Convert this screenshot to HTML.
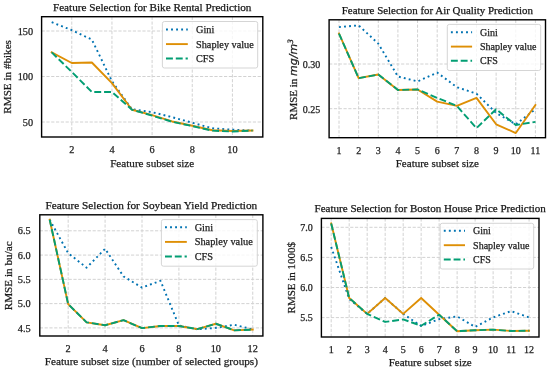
<!DOCTYPE html>
<html lang="en"><head><meta charset="utf-8"><title>Feature Selection</title>
<style>
html,body{margin:0;padding:0;background:#fff;}
body{width:550px;height:373px;overflow:hidden;}
svg{display:block;font-family:"Liberation Serif","DejaVu Serif",serif;}
text{stroke:#222;stroke-width:0.25px;}
.tk{font-size:10px;fill:#1a1a1a;}
.lb{font-size:11px;fill:#1a1a1a;}
.tt{font-size:11px;fill:#111;}
.lg{font-size:10px;fill:#1a1a1a;}
.it{font-family:"DejaVu Sans","Liberation Sans",sans-serif;font-style:italic;font-size:11px;}
</style></head><body>
<svg width="550" height="373" viewBox="0 0 550 373">
<rect width="550" height="373" fill="#ffffff"/>
<g id="panel1">
<path d="M71.78 16.7V137M111.94 16.7V137M152.1 16.7V137M192.26 16.7V137M232.42 16.7V137M41.6 122H262.8M41.6 76.5H262.8M41.6 31H262.8" fill="none" stroke="#d2d2d2" stroke-width="1" stroke-dasharray="3.2 1.6"/>
<polyline points="51.7,22.17 71.78,30.18 91.86,39.55 111.94,81.23 132.02,109.26 152.1,112.17 172.18,117.18 192.26,122.73 212.34,128.28 232.42,129.74 252.5,130.55" fill="none" stroke="#0173b2" stroke-width="1.9" stroke-dasharray="1.9 3.15" stroke-linejoin="round"/>
<polyline points="51.7,52.39 71.78,63.03 91.86,62.49 111.94,83.14 132.02,109.72 152.1,115.17 172.18,121.45 192.26,125.73 212.34,130.28 232.42,131.01 252.5,130.55" fill="none" stroke="#de8f05" stroke-width="1.9" stroke-linejoin="round" stroke-linecap="square"/>
<polyline points="51.7,52.39 71.78,71.95 91.86,91.97 111.94,91.97 132.02,109.72 152.1,115.63 172.18,121.82 192.26,126.09 212.34,130.65 232.42,131.56 252.5,130.55" fill="none" stroke="#029e73" stroke-width="1.9" stroke-dasharray="6.9 2.9" stroke-linejoin="round"/>
<rect x="41.6" y="16.7" width="221.2" height="120.3" fill="none" stroke="#000" stroke-width="1.4"/>
<rect x="162.4" y="21.5" width="95.3" height="46.5" rx="2" ry="2" fill="#fff" fill-opacity="0.8" stroke="#d0d0d0" stroke-width="0.9"/>
<line x1="166" y1="29.5" x2="187.8" y2="29.5" stroke="#0173b2" stroke-width="1.9" stroke-dasharray="1.9 3.15"/>
<line x1="166" y1="44.1" x2="187.8" y2="44.1" stroke="#de8f05" stroke-width="1.9"/>
<line x1="166" y1="58.5" x2="187.8" y2="58.5" stroke="#029e73" stroke-width="1.9" stroke-dasharray="6.9 2.9"/>
<text class="lg" style="font-size:10.25px" x="196" y="33">Gini</text>
<text class="lg" style="font-size:10.25px" x="196" y="47.6">Shapley value</text>
<text class="lg" style="font-size:10.25px" x="196" y="62">CFS</text>
<text class="tk" style="font-size:10.25px" x="71.78" y="153" text-anchor="middle">2</text>
<text class="tk" style="font-size:10.25px" x="111.94" y="153" text-anchor="middle">4</text>
<text class="tk" style="font-size:10.25px" x="152.1" y="153" text-anchor="middle">6</text>
<text class="tk" style="font-size:10.25px" x="192.26" y="153" text-anchor="middle">8</text>
<text class="tk" style="font-size:10.25px" x="232.42" y="153" text-anchor="middle">10</text>
<text class="tk" style="font-size:10.25px" x="33" y="125.9" text-anchor="end">50</text>
<text class="tk" style="font-size:10.25px" x="33" y="80.4" text-anchor="end">100</text>
<text class="tk" style="font-size:10.25px" x="33" y="34.9" text-anchor="end">150</text>
<text class="tt" style="font-size:11.2px" x="152.2" y="10.6" text-anchor="middle">Feature Selection for Bike Rental Prediction</text>
<text class="lb" style="font-size:11.13px" x="152.2" y="166.8" text-anchor="middle">Feature subset size</text>
<text class="lb" style="font-size:11.13px" transform="translate(11 76.85) rotate(-90)" text-anchor="middle">RMSE in #bikes</text>
</g>
<g id="panel2">
<path d="M339 19.8V137.7M358.64 19.8V137.7M378.28 19.8V137.7M397.92 19.8V137.7M417.56 19.8V137.7M437.2 19.8V137.7M456.84 19.8V137.7M476.48 19.8V137.7M496.12 19.8V137.7M515.76 19.8V137.7M535.4 19.8V137.7M329.1 108.7H545.5M329.1 64H545.5" fill="none" stroke="#d2d2d2" stroke-width="1" stroke-dasharray="3.2 1.6"/>
<polyline points="339,27.08 358.64,25.38 378.28,43.62 397.92,76.52 417.56,81.43 437.2,72.58 456.84,87.15 476.48,93.68 496.12,112.99 515.76,124.26 535.4,109.24" fill="none" stroke="#0173b2" stroke-width="1.9" stroke-dasharray="1.9 3.15" stroke-linejoin="round"/>
<polyline points="339,33.6 358.64,78.13 378.28,74.55 397.92,89.93 417.56,89.48 437.2,101.64 456.84,105.93 476.48,97.88 496.12,124.26 515.76,133.02 535.4,104.95" fill="none" stroke="#de8f05" stroke-width="1.9" stroke-linejoin="round" stroke-linecap="square"/>
<polyline points="339,33.6 358.64,78.13 378.28,74.55 397.92,89.93 417.56,89.48 437.2,97.88 456.84,105.93 476.48,128.1 496.12,109.24 515.76,125.06 535.4,121.84" fill="none" stroke="#029e73" stroke-width="1.9" stroke-dasharray="6.9 2.9" stroke-linejoin="round"/>
<rect x="329.1" y="19.8" width="216.4" height="117.9" fill="none" stroke="#000" stroke-width="1.4"/>
<rect x="447.3" y="24.4" width="93.4" height="46.1" rx="2" ry="2" fill="#fff" fill-opacity="0.8" stroke="#d0d0d0" stroke-width="0.9"/>
<line x1="450.9" y1="32.2" x2="472.1" y2="32.2" stroke="#0173b2" stroke-width="1.9" stroke-dasharray="1.9 3.15"/>
<line x1="450.9" y1="46.6" x2="472.1" y2="46.6" stroke="#de8f05" stroke-width="1.9"/>
<line x1="450.9" y1="60.8" x2="472.1" y2="60.8" stroke="#029e73" stroke-width="1.9" stroke-dasharray="6.9 2.9"/>
<text class="lg" style="font-size:10px" x="480" y="35.7">Gini</text>
<text class="lg" style="font-size:10px" x="480" y="50.1">Shapley value</text>
<text class="lg" style="font-size:10px" x="480" y="64.3">CFS</text>
<text class="tk" style="font-size:10px" x="339" y="153.5" text-anchor="middle">1</text>
<text class="tk" style="font-size:10px" x="358.64" y="153.5" text-anchor="middle">2</text>
<text class="tk" style="font-size:10px" x="378.28" y="153.5" text-anchor="middle">3</text>
<text class="tk" style="font-size:10px" x="397.92" y="153.5" text-anchor="middle">4</text>
<text class="tk" style="font-size:10px" x="417.56" y="153.5" text-anchor="middle">5</text>
<text class="tk" style="font-size:10px" x="437.2" y="153.5" text-anchor="middle">6</text>
<text class="tk" style="font-size:10px" x="456.84" y="153.5" text-anchor="middle">7</text>
<text class="tk" style="font-size:10px" x="476.48" y="153.5" text-anchor="middle">8</text>
<text class="tk" style="font-size:10px" x="496.12" y="153.5" text-anchor="middle">9</text>
<text class="tk" style="font-size:10px" x="515.76" y="153.5" text-anchor="middle">10</text>
<text class="tk" style="font-size:10px" x="535.4" y="153.5" text-anchor="middle">11</text>
<text class="tk" style="font-size:10px" x="320.3" y="112.5" text-anchor="end">0.25</text>
<text class="tk" style="font-size:10px" x="320.3" y="67.8" text-anchor="end">0.30</text>
<text class="tt" style="font-size:10.92px" x="437.3" y="14.4" text-anchor="middle">Feature Selection for Air Quality Prediction</text>
<text class="lb" style="font-size:11.0px" x="437.3" y="166.8" text-anchor="middle">Feature subset size</text>
<text class="lb" style="font-size:11.0px" transform="translate(296.9 79.5) rotate(-90)" text-anchor="middle">RMSE in <tspan class="it">mg/m</tspan><tspan class="it" style="font-size:7.4px" dy="-4.2">3</tspan></text>
</g>
<g id="panel3">
<path d="M68.16 214.8V336M105.08 214.8V336M142 214.8V336M178.92 214.8V336M215.84 214.8V336M252.76 214.8V336M39.8 327.9H262.9M39.8 303.62H262.9M39.8 279.35H262.9M39.8 255.08H262.9M39.8 230.8H262.9" fill="none" stroke="#d2d2d2" stroke-width="1" stroke-dasharray="3.2 1.6"/>
<polyline points="49.7,219.68 68.16,253.13 86.62,267.7 105.08,248.76 123.54,276.44 142,287.6 160.46,280.81 178.92,325.47 197.38,329.36 215.84,327.9 234.3,324.74 252.76,329.36" fill="none" stroke="#0173b2" stroke-width="1.9" stroke-dasharray="1.9 3.15" stroke-linejoin="round"/>
<polyline points="49.7,219.68 68.16,304.11 86.62,322.32 105.08,325.23 123.54,320.13 142,328.14 160.46,325.96 178.92,325.96 197.38,329.11 215.84,323.77 234.3,330.33 252.76,329.6" fill="none" stroke="#de8f05" stroke-width="1.9" stroke-linejoin="round" stroke-linecap="square"/>
<polyline points="49.7,219.68 68.16,304.11 86.62,322.32 105.08,325.23 123.54,320.13 142,328.14 160.46,325.96 178.92,325.96 197.38,329.11 215.84,323.77 234.3,330.33 252.76,329.6" fill="none" stroke="#029e73" stroke-width="1.9" stroke-dasharray="6.9 2.9" stroke-linejoin="round"/>
<rect x="39.8" y="214.8" width="223.1" height="121.2" fill="none" stroke="#000" stroke-width="1.4"/>
<rect x="161.4" y="219.6" width="95.9" height="46.6" rx="2" ry="2" fill="#fff" fill-opacity="0.8" stroke="#d0d0d0" stroke-width="0.9"/>
<line x1="165" y1="227.2" x2="186.8" y2="227.2" stroke="#0173b2" stroke-width="1.9" stroke-dasharray="1.9 3.15"/>
<line x1="165" y1="241.9" x2="186.8" y2="241.9" stroke="#de8f05" stroke-width="1.9"/>
<line x1="165" y1="256.5" x2="186.8" y2="256.5" stroke="#029e73" stroke-width="1.9" stroke-dasharray="6.9 2.9"/>
<text class="lg" style="font-size:10.3px" x="194.7" y="230.7">Gini</text>
<text class="lg" style="font-size:10.3px" x="194.7" y="245.4">Shapley value</text>
<text class="lg" style="font-size:10.3px" x="194.7" y="260">CFS</text>
<text class="tk" style="font-size:10.3px" x="68.16" y="352" text-anchor="middle">2</text>
<text class="tk" style="font-size:10.3px" x="105.08" y="352" text-anchor="middle">4</text>
<text class="tk" style="font-size:10.3px" x="142" y="352" text-anchor="middle">6</text>
<text class="tk" style="font-size:10.3px" x="178.92" y="352" text-anchor="middle">8</text>
<text class="tk" style="font-size:10.3px" x="215.84" y="352" text-anchor="middle">10</text>
<text class="tk" style="font-size:10.3px" x="252.76" y="352" text-anchor="middle">12</text>
<text class="tk" style="font-size:10.3px" x="30.7" y="331.5" text-anchor="end">4.5</text>
<text class="tk" style="font-size:10.3px" x="30.7" y="307.23" text-anchor="end">5.0</text>
<text class="tk" style="font-size:10.3px" x="30.7" y="282.95" text-anchor="end">5.5</text>
<text class="tk" style="font-size:10.3px" x="30.7" y="258.68" text-anchor="end">6.0</text>
<text class="tk" style="font-size:10.3px" x="30.7" y="234.4" text-anchor="end">6.5</text>
<text class="tt" style="font-size:11.25px" x="151.35" y="208.5" text-anchor="middle">Feature Selection for Soybean Yield Prediction</text>
<text class="lb" style="font-size:11.2px" x="151.35" y="365.4" text-anchor="middle">Feature subset size (number of selected groups)</text>
<text class="lb" style="font-size:11.2px" transform="translate(11.6 275.8) rotate(-90)" text-anchor="middle">RMSE in bu/ac</text>
</g>
<g id="panel4">
<path d="M331.2 218.4V337M349.19 218.4V337M367.18 218.4V337M385.17 218.4V337M403.16 218.4V337M421.15 218.4V337M439.14 218.4V337M457.13 218.4V337M475.12 218.4V337M493.11 218.4V337M511.1 218.4V337M529.09 218.4V337M321.4 317.6H539M321.4 287.5H539M321.4 257.4H539M321.4 227.3H539" fill="none" stroke="#d2d2d2" stroke-width="1" stroke-dasharray="3.2 1.6"/>
<polyline points="331.2,246.93 349.19,298.94 367.18,313.87 385.17,297.97 403.16,313.87 421.15,326.03 439.14,319.11 457.13,316.4 475.12,326.93 493.11,317.42 511.1,311.1 529.09,317.42" fill="none" stroke="#0173b2" stroke-width="1.9" stroke-dasharray="1.9 3.15" stroke-linejoin="round"/>
<polyline points="331.2,223.51 349.19,297.97 367.18,313.87 385.17,297.97 403.16,313.87 421.15,297.97 439.14,314.71 457.13,331.21 475.12,330.24 493.11,329.64 511.1,330.96 529.09,330.72" fill="none" stroke="#de8f05" stroke-width="1.9" stroke-linejoin="round" stroke-linecap="square"/>
<polyline points="331.2,223.51 349.19,297.97 367.18,313.87 385.17,321.93 403.16,319.41 421.15,325.73 439.14,314.71 457.13,331.21 475.12,330.24 493.11,329.64 511.1,330.96 529.09,330.72" fill="none" stroke="#029e73" stroke-width="1.9" stroke-dasharray="6.9 2.9" stroke-linejoin="round"/>
<rect x="321.4" y="218.4" width="217.6" height="118.6" fill="none" stroke="#000" stroke-width="1.4"/>
<rect x="440.2" y="223.3" width="93.5" height="45.7" rx="2" ry="2" fill="#fff" fill-opacity="0.8" stroke="#d0d0d0" stroke-width="0.9"/>
<line x1="443.8" y1="230.8" x2="465" y2="230.8" stroke="#0173b2" stroke-width="1.9" stroke-dasharray="1.9 3.15"/>
<line x1="443.8" y1="245.2" x2="465" y2="245.2" stroke="#de8f05" stroke-width="1.9"/>
<line x1="443.8" y1="259.5" x2="465" y2="259.5" stroke="#029e73" stroke-width="1.9" stroke-dasharray="6.9 2.9"/>
<text class="lg" style="font-size:10px" x="473.1" y="234.3">Gini</text>
<text class="lg" style="font-size:10px" x="473.1" y="248.7">Shapley value</text>
<text class="lg" style="font-size:10px" x="473.1" y="263">CFS</text>
<text class="tk" style="font-size:10px" x="331.2" y="353.2" text-anchor="middle">1</text>
<text class="tk" style="font-size:10px" x="349.19" y="353.2" text-anchor="middle">2</text>
<text class="tk" style="font-size:10px" x="367.18" y="353.2" text-anchor="middle">3</text>
<text class="tk" style="font-size:10px" x="385.17" y="353.2" text-anchor="middle">4</text>
<text class="tk" style="font-size:10px" x="403.16" y="353.2" text-anchor="middle">5</text>
<text class="tk" style="font-size:10px" x="421.15" y="353.2" text-anchor="middle">6</text>
<text class="tk" style="font-size:10px" x="439.14" y="353.2" text-anchor="middle">7</text>
<text class="tk" style="font-size:10px" x="457.13" y="353.2" text-anchor="middle">8</text>
<text class="tk" style="font-size:10px" x="475.12" y="353.2" text-anchor="middle">9</text>
<text class="tk" style="font-size:10px" x="493.11" y="353.2" text-anchor="middle">10</text>
<text class="tk" style="font-size:10px" x="511.1" y="353.2" text-anchor="middle">11</text>
<text class="tk" style="font-size:10px" x="529.09" y="353.2" text-anchor="middle">12</text>
<text class="tk" style="font-size:10px" x="312.8" y="321.3" text-anchor="end">5.5</text>
<text class="tk" style="font-size:10px" x="312.8" y="291.2" text-anchor="end">6.0</text>
<text class="tk" style="font-size:10px" x="312.8" y="261.1" text-anchor="end">6.5</text>
<text class="tk" style="font-size:10px" x="312.8" y="231" text-anchor="end">7.0</text>
<text class="tt" style="font-size:11.05px" x="430.2" y="212.3" text-anchor="middle">Feature Selection for Boston House Price Prediction</text>
<text class="lb" style="font-size:11.0px" x="430.2" y="365.9" text-anchor="middle">Feature subset size</text>
<text class="lb" style="font-size:11.0px" transform="translate(294.7 277.7) rotate(-90)" text-anchor="middle">RMSE in 1000$</text>
</g>
</svg></body></html>
